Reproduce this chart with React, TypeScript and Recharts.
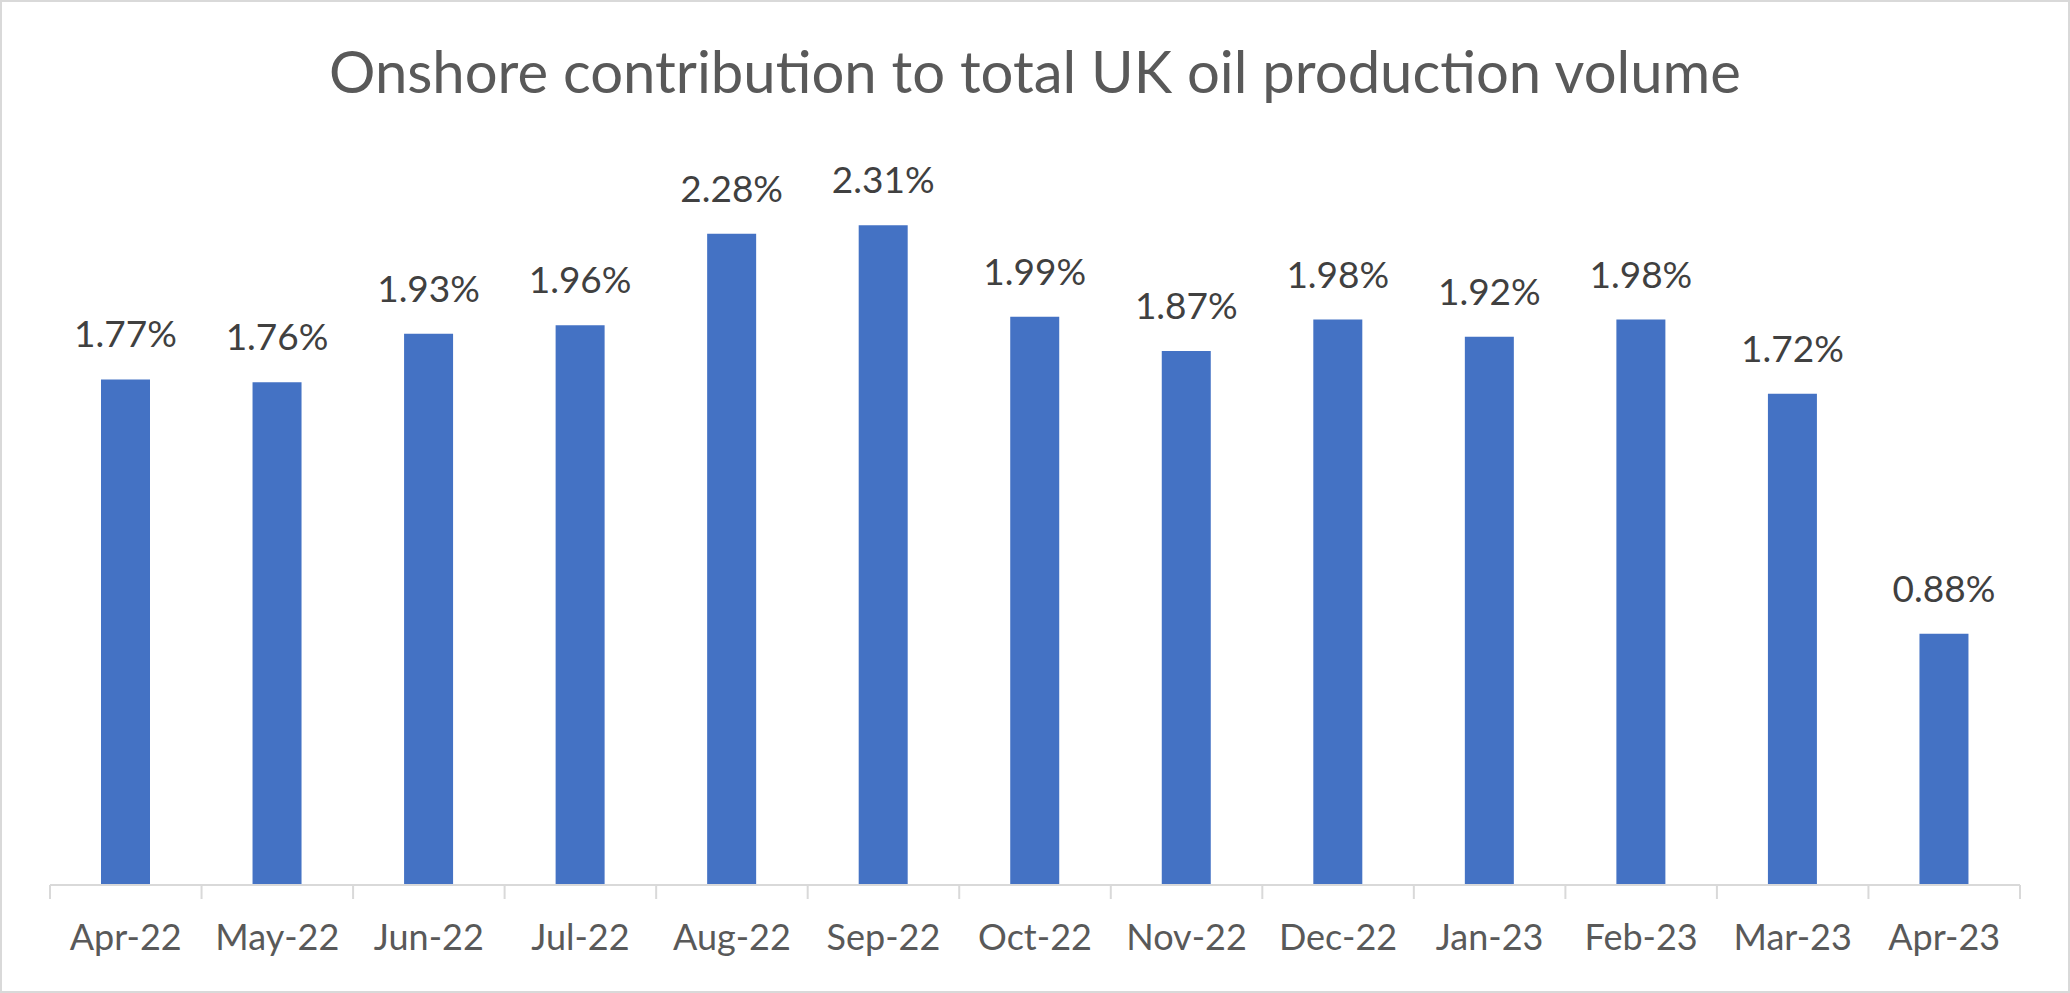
import { BarChart, Bar, XAxis, YAxis, LabelList } from "recharts";

const months = [
  "Apr-22", "May-22", "Jun-22", "Jul-22", "Aug-22", "Sep-22", "Oct-22",
  "Nov-22", "Dec-22", "Jan-23", "Feb-23", "Mar-23", "Apr-23",
];
const onshoreShare = [1.77, 1.76, 1.93, 1.96, 2.28, 2.31, 1.99, 1.87, 1.98, 1.92, 1.98, 1.72, 0.88];

const W = 2070;
const H = 993;
const PLOT_LEFT = 50;
const PLOT_RIGHT = 50;
const FONT = "Lato, 'Open Sans', sans-serif";

const data = months.map((m, i) => ({ month: m, value: onshoreShare[i] }));
const band = (W - PLOT_LEFT - PLOT_RIGHT) / months.length;

function MonthTick(props: any) {
  const { x, y, payload, index } = props;
  const left = x - band / 2;
  const right = x + band / 2;
  return (
    <g>
      <line x1={left} y1={y - 8} x2={left} y2={y + 6} stroke="#d9d9d9" strokeWidth={2} />
      {index === months.length - 1 && (
        <line x1={right} y1={y - 8} x2={right} y2={y + 6} stroke="#d9d9d9" strokeWidth={2} />
      )}
      <text x={x} y={y + 57} textAnchor="middle" fill="#595959" fontSize={36} fontFamily={FONT}>
        {payload.value}
      </text>
    </g>
  );
}

export default function App() {
  return (
    <div
      style={{
        position: "absolute",
        left: 0,
        top: 0,
        width: W,
        height: H,
        boxSizing: "border-box",
        border: "2px solid #d9d9d9",
        background: "#fff",
        fontFamily: FONT,
      }}
    >
      <div
        style={{
          position: "absolute",
          left: 0,
          width: "100%",
          top: 32,
          textAlign: "center",
          fontSize: 58,
          color: "#595959",
          lineHeight: "74px",
        }}
      >
        Onshore contribution to total UK oil production volume
      </div>
      <BarChart
        width={W - 4}
        height={H - 4}
        data={data}
        margin={{ top: 169, right: PLOT_RIGHT - 2, left: PLOT_LEFT - 2, bottom: 0 }}
        style={{ position: "absolute", left: 0, top: 0 }}
      >
        <YAxis hide domain={[0, 2.5]} />
        <XAxis
          dataKey="month"
          height={106}
          axisLine={{ stroke: "#d9d9d9", strokeWidth: 2 }}
          tickLine={false}
          tick={<MonthTick />}
          interval={0}
        />
        <Bar dataKey="value" fill="#4472c4" barSize={49} isAnimationActive={false}>
          <LabelList
            dataKey="value"
            position="top"
            offset={32}
            formatter={(v: any) => `${Number(v).toFixed(2)}%`}
            fill="#404040"
            fontSize={37}
            fontFamily={FONT}
          />
        </Bar>
      </BarChart>
    </div>
  );
}
